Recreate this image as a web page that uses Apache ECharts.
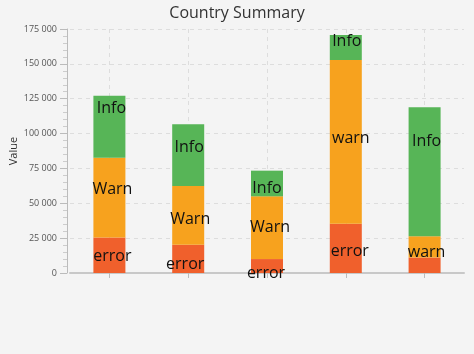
<!DOCTYPE html>
<html>
<head>
<meta charset="utf-8">
<script src="https://cdn.jsdelivr.net/npm/echarts@6/dist/echarts.min.js"></script>
<style>
html,body{margin:0;padding:0;background:#f4f4f4;}
#c{width:474px;height:354px;}
</style>
</head>
<body>
<div id="c"></div>
<script>
// Data
var categories = ['1', '2', '3', '4', '5'];
var errorValues = [25500, 20300, 10000, 35400, 11200];
var warnValues = [57200, 42100, 45000, 117400, 15100];
var infoValues = [44500, 44200, 18400, 17900, 92500];
var errorLabels = ['error', 'error', 'error', 'error', ''];
var warnLabels = ['Warn', 'Warn', 'Warn', 'warn', 'warn'];
var infoLabels = ['Info', 'Info', 'Info', 'Info', 'Info'];
var yTicks = [0, 25000, 50000, 75000, 100000, 125000, 150000, 175000];

// Label style offsets (not data)
var errorOffsets = [[3, 1], [-3, 6], [-1, 7], [4, 3], [0, 0]];
var warnOffsets = [[3, -8], [2, 4], [3, 0], [5, -3], [2, 6]];
var infoOffsets = [[2, -18], [1, -7.5], [0, 5], [1, -6], [2, -30]];

function items(values, labels, offsets) {
  return values.map(function (v, i) {
    return {
      value: v,
      label: { formatter: labels[i], offset: offsets[i] }
    };
  });
}

var labelStyle = {
  show: true,
  position: 'inside',
  color: '#111',
  fontSize: 16,
  fontFamily: 'Open Sans'
};

var chart = echarts.init(document.getElementById('c'));
chart.setOption({
  backgroundColor: '#f4f4f4',
  animation: false,
  title: {
    text: 'Country Summary',
    left: 'center',
    top: 0,
    textStyle: { fontSize: 16, fontWeight: 'normal', color: '#333', fontFamily: 'Open Sans' }
  },
  grid: { left: 70, right: 10, top: 29, bottom: 81, containLabel: false, outerBoundsMode: 'none' },
  xAxis: {
    type: 'category',
    data: categories,
    axisLine: { lineStyle: { color: '#c8c8c8', width: 2 } },
    axisTick: { show: true, alignWithLabel: true, length: 5, lineStyle: { color: '#bbb' } },
    axisLabel: { show: false },
    splitLine: { show: true, alignWithLabel: true, lineStyle: { color: '#ddd', type: [4, 4] } }
  },
  yAxis: {
    type: 'value',
    min: yTicks[0],
    max: yTicks[yTicks.length - 1],
    interval: yTicks[1] - yTicks[0],
    offset: 3,
    name: 'Value',
    nameLocation: 'middle',
    nameGap: 48,
    nameMoveOverlap: false,
    nameTextStyle: { fontSize: 11, color: '#333', fontFamily: 'Open Sans' },
    axisLine: { show: true, lineStyle: { color: '#bbb' } },
    axisTick: { show: true, length: 7, lineStyle: { color: '#bbb' } },
    minorTick: { show: true, splitNumber: 5, length: 4, lineStyle: { color: '#ccc' } },
    axisLabel: {
      fontSize: 9,
      color: '#555',
      margin: 10,
      fontFamily: 'Open Sans',
      formatter: function (v) {
        return String(v).replace(/\B(?=(\d{3})+(?!\d))/g, ' ');
      }
    },
    splitLine: { show: true, lineStyle: { color: '#ddd', type: [4, 4] } }
  },
  series: [
    {
      name: 'error', type: 'bar', stack: 'total', barWidth: 32,
      itemStyle: { color: '#f0602c' },
      label: labelStyle,
      data: items(errorValues, errorLabels, errorOffsets)
    },
    {
      name: 'warn', type: 'bar', stack: 'total', barWidth: 32,
      itemStyle: { color: '#f7a21e' },
      label: labelStyle,
      data: items(warnValues, warnLabels, warnOffsets)
    },
    {
      name: 'info', type: 'bar', stack: 'total', barWidth: 32,
      itemStyle: { color: '#57b557' },
      label: labelStyle,
      data: items(infoValues, infoLabels, infoOffsets)
    }
  ]
});
</script>
</body>
</html>
